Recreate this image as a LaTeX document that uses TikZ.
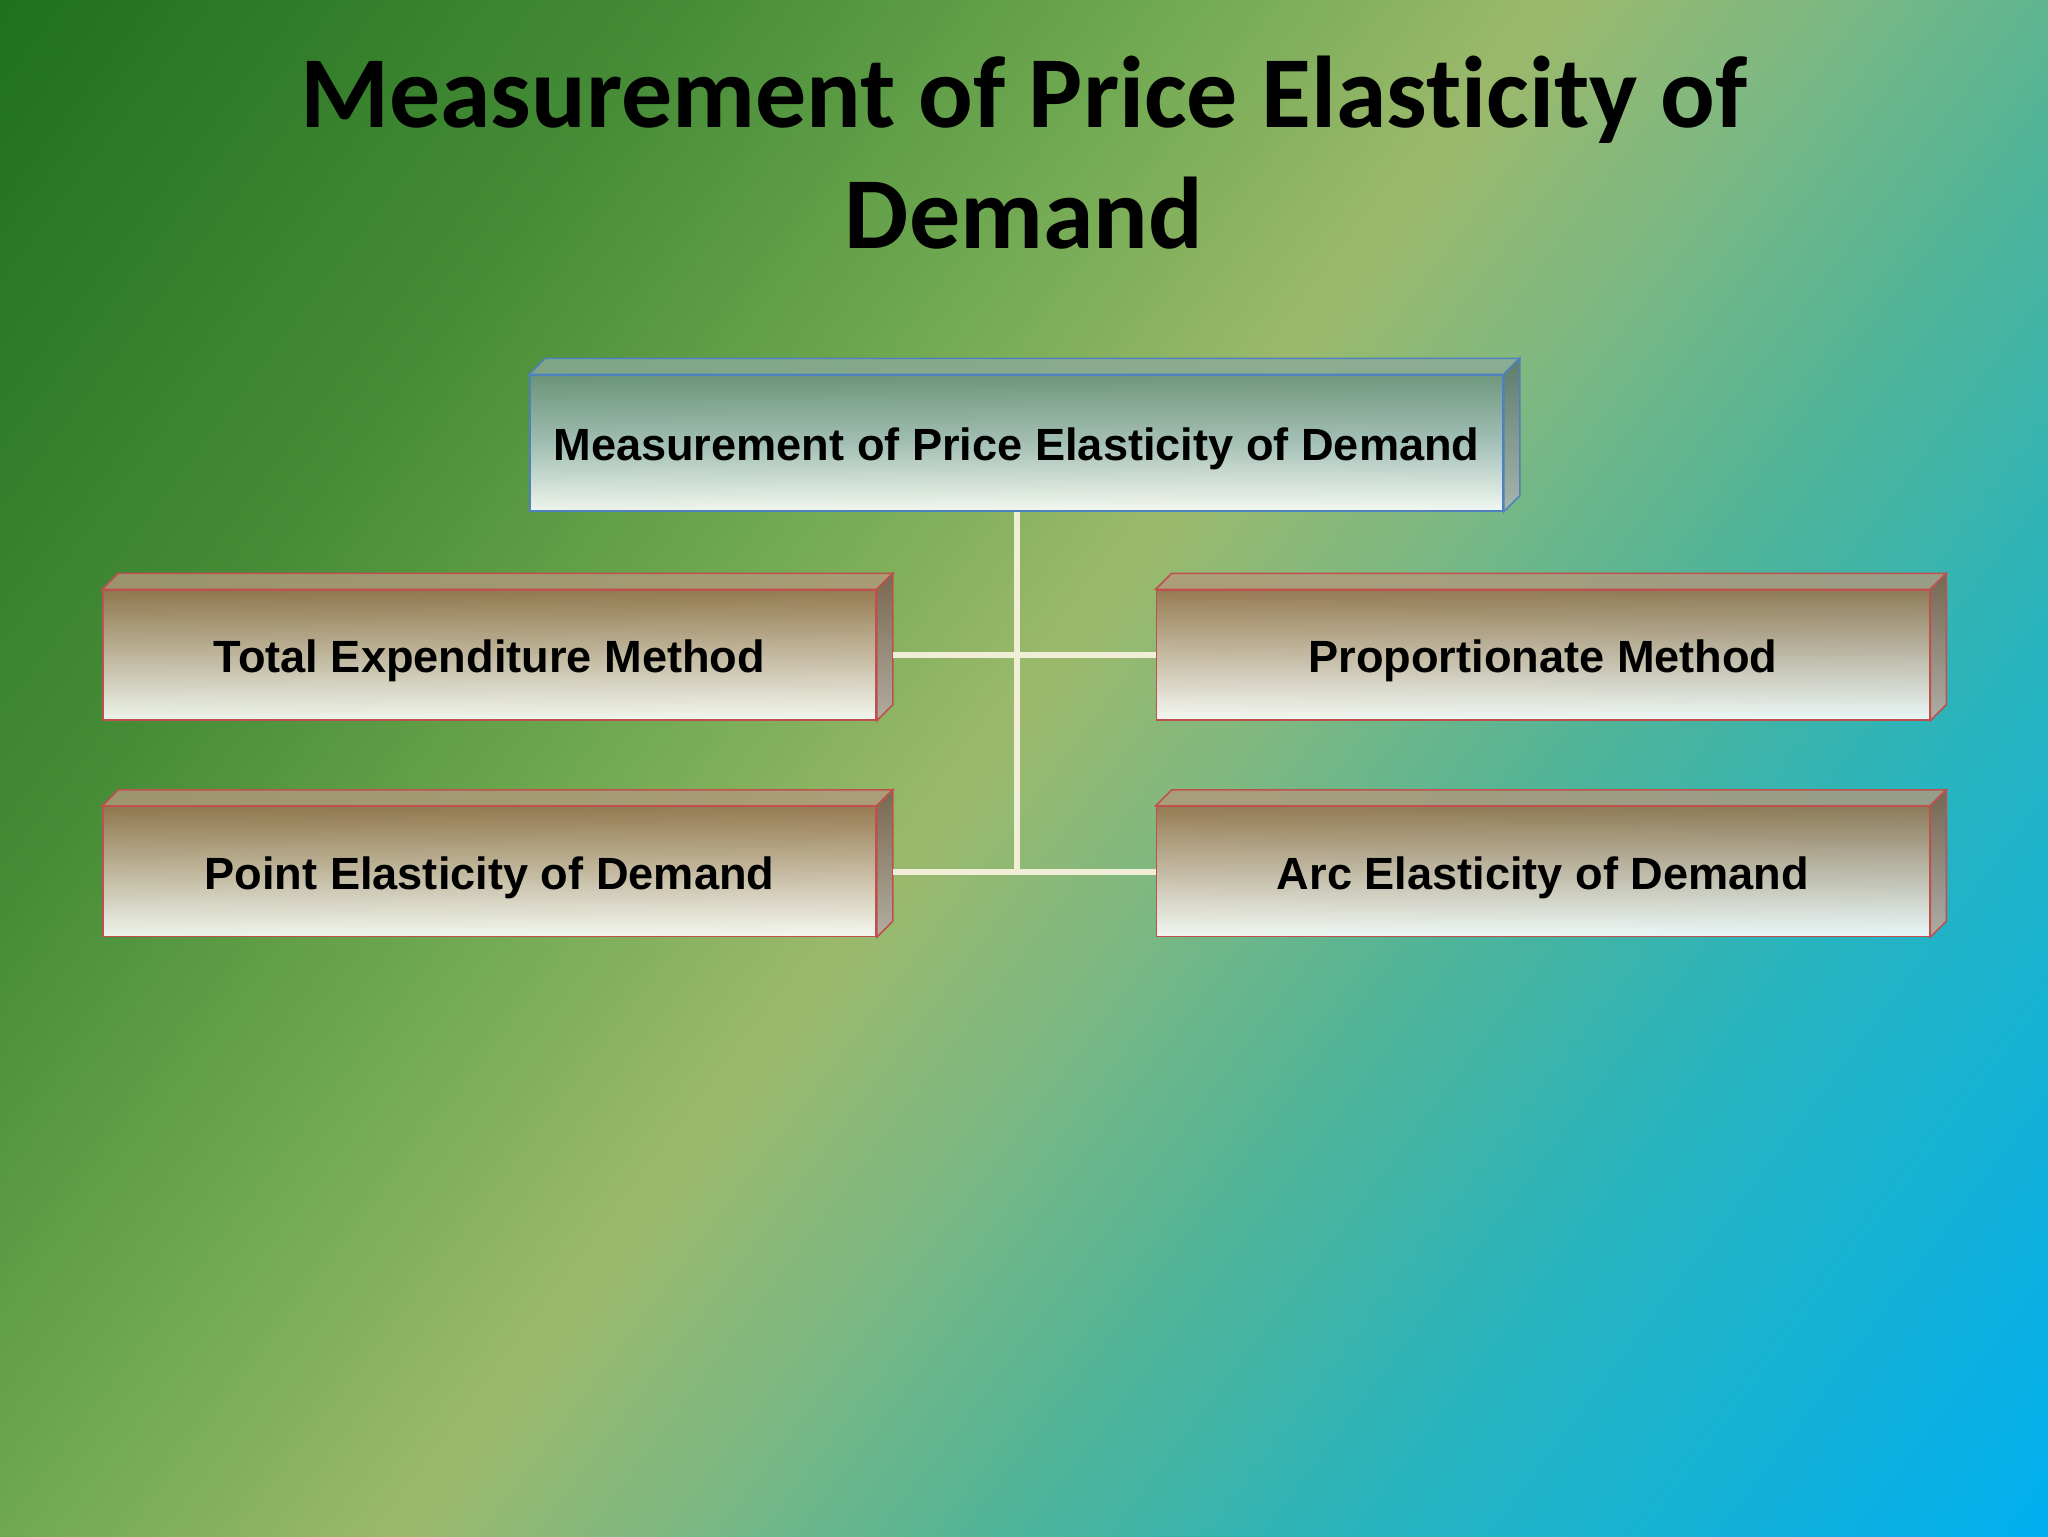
\documentclass[tikz,border=0pt]{standalone}
\usepackage{fontspec}
\setmainfont{Liberation Sans}
\newfontfamily\titlefont[Ligatures=NoCommon]{Carlito}
\usetikzlibrary{positioning,calc}

\definecolor{bgA}{HTML}{20701E}
\definecolor{bgB}{HTML}{468C37}
\definecolor{bgC}{HTML}{6EA850}
\definecolor{bgD}{HTML}{9BB96C}
\definecolor{bgE}{HTML}{7DB882}
\definecolor{bgF}{HTML}{50B498}
\definecolor{bgG}{HTML}{28B4BE}
\definecolor{bgH}{HTML}{00AFF0}
\definecolor{boxred}{HTML}{C0504D}
\definecolor{boxblue}{HTML}{4F81BD}
\definecolor{browntop}{HTML}{987650}
\definecolor{brownmid}{HTML}{D0AAA0}
\definecolor{bluetop}{HTML}{6E9480}
\definecolor{bluemid}{HTML}{A8C2BE}
\definecolor{linkcream}{HTML}{F1EED8}

\pgfdeclarehorizontalshading{slidebg}{100bp}{color(0bp)=(bgA); color(15bp)=(bgA); color(30bp)=(bgB);
  color(40bp)=(bgC); color(49bp)=(bgD); color(55bp)=(bgE); color(62bp)=(bgF); color(70bp)=(bgG);
  color(85bp)=(bgH); color(100bp)=(bgH)}

\tikzset{
methodbox/.style = {draw=boxred, line width=0.15mm, top color=browntop, middle color=brownmid, bottom color=white,
  fill opacity=0.9, text opacity=1, minimum width=77.3mm, minimum height=13mm, inner sep=0pt,
  text height=1.02em, text depth=0pt, font=\fontsize{12.85}{15}\selectfont\bfseries},
headbox/.style = {methodbox, draw=boxblue, top color=bluetop, middle color=bluemid, minimum width=97.3mm, minimum height=13.6mm},
titletext/.style = {anchor=base, inner sep=0pt, font=\titlefont\fontsize{29}{34}\selectfont\bfseries},
link/.style = {draw=linkcream, line width=0.6mm}
}

% top and right faces of a box node
\newcommand{\boxfaces}[4]{%
  \filldraw[draw=#2, line width=0.15mm, fill=#3, fill opacity=0.8]
    (#1.north west) -- ++(16,-16) -- ([shift={(16,-16)}]#1.north east) -- (#1.north east) -- cycle;
  \filldraw[draw=#2, line width=0.15mm, top color=#4, bottom color=#4!35!white, fill opacity=0.8]
    (#1.north east) -- ([shift={(16,-16)}]#1.north east) -- ([shift={(16,-16)}]#1.south east) -- (#1.south east) -- cycle;
}

\begin{document}
\begin{tikzpicture}[x=0.1mm, y=-0.1mm]
    \fill[shading=slidebg, shading angle=-37] (0,0) rectangle (2048,1536);
    \useasboundingbox (0,0) rectangle (2048,1536);

    \node [titletext] (title) at (1024,127) {Measurement of Price Elasticity of};
    \node [titletext] (titleb) at (1024,248) {Demand};

    \node [headbox] (main) at (1016.5,443) {Measurement of Price Elasticity of Demand};
    \node [methodbox] (total) at (489.5,655) {Total Expenditure Method};
    \node [methodbox] (point) at (489.5,871.5) {Point Elasticity of Demand};
    \node [methodbox] (prop) at (1543,655) {Proportionate Method};
    \node [methodbox] (arc) at (1543,871.5) {Arc Elasticity of Demand};

    \boxfaces{main}{boxblue}{bluetop!80!white}{bluetop}
    \boxfaces{total}{boxred}{browntop!75!white}{browntop!70!gray}
    \boxfaces{point}{boxred}{browntop!75!white}{browntop!70!gray}
    \boxfaces{prop}{boxred}{browntop!75!white}{browntop!70!gray}
    \boxfaces{arc}{boxred}{browntop!75!white}{browntop!70!gray}

    \draw [link] (main.south) -- (main.south |- point.east);
    \draw [link] ([xshift=1.6mm]total.east) -- (prop.west);
    \draw [link] ([xshift=1.6mm]point.east) -- (arc.west);
\end{tikzpicture}
\end{document}
